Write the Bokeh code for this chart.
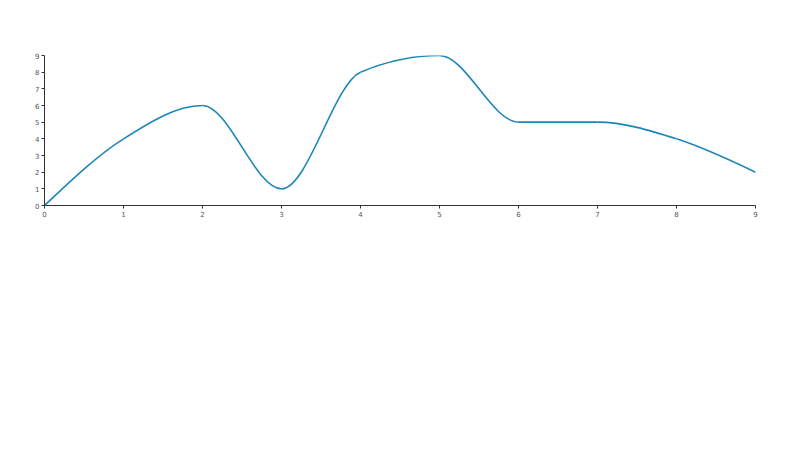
import numpy as np
from bokeh.plotting import figure
from bokeh.models import Range1d, FixedTicker
from bokeh.embed import file_html
from bokeh.resources import INLINE

xs = [0, 1, 2, 3, 4, 5, 6, 7, 8, 9]
ys = [0, 4, 6, 1, 8, 9, 5, 5, 4, 2]
ticks = [0, 1, 2, 3, 4, 5, 6, 7, 8, 9]

# d3.curveMonotoneX tangents
def sgn(v):
    return -1.0 if v < 0 else 1.0

n = len(xs)
t = [0.0] * n
for i in range(1, n - 1):
    h0 = xs[i] - xs[i - 1]
    h1 = xs[i + 1] - xs[i]
    s0 = (ys[i] - ys[i - 1]) / h0
    s1 = (ys[i + 1] - ys[i]) / h1
    pp = (s0 * h1 + s1 * h0) / (h0 + h1)
    t[i] = (sgn(s0) + sgn(s1)) * min(abs(s0), abs(s1), 0.5 * abs(pp))
h = xs[1] - xs[0]
t[0] = (3 * (ys[1] - ys[0]) / h - t[1]) / 2
h = xs[-1] - xs[-2]
t[-1] = (3 * (ys[-1] - ys[-2]) / h - t[-2]) / 2

bx0, by0, bx1, by1, cx0, cy0, cx1, cy1 = [], [], [], [], [], [], [], []
for i in range(n - 1):
    dx = (xs[i + 1] - xs[i]) / 3
    bx0.append(xs[i]); by0.append(ys[i])
    bx1.append(xs[i + 1]); by1.append(ys[i + 1])
    cx0.append(xs[i] + dx); cy0.append(ys[i] + dx * t[i])
    cx1.append(xs[i + 1] - dx); cy1.append(ys[i + 1] - dx * t[i + 1])

p = figure(width=784, height=434, output_backend="svg", toolbar_location=None,
           x_range=Range1d(0, 9), y_range=Range1d(0, 9),
           min_border_left=44, min_border_right=29, min_border_top=55,
           min_border_bottom=229)
p.outline_line_color = None
p.xgrid.grid_line_color = None
p.ygrid.grid_line_color = None
p.background_fill_color = "white"
p.border_fill_color = "white"

p.bezier(x0=bx0, y0=by0, x1=bx1, y1=by1, cx0=cx0, cy0=cy0, cx1=cx1, cy1=cy1,
         line_color="#1b86b8", line_width=1.6)

for ax in (p.xaxis[0], p.yaxis[0]):
    ax.ticker = FixedTicker(ticks=ticks)
    ax.minor_tick_line_color = None
    ax.major_tick_in = 0
    ax.major_tick_out = 3
    ax.axis_line_color = "#333333"
    ax.major_tick_line_color = "#333333"
    ax.major_label_text_font = "DejaVu Sans"
    ax.major_label_text_font_size = "7px"
    ax.major_label_text_color = "#555555"
    ax.major_label_standoff = 2

open("out.html", "w").write(file_html(p, INLINE))
